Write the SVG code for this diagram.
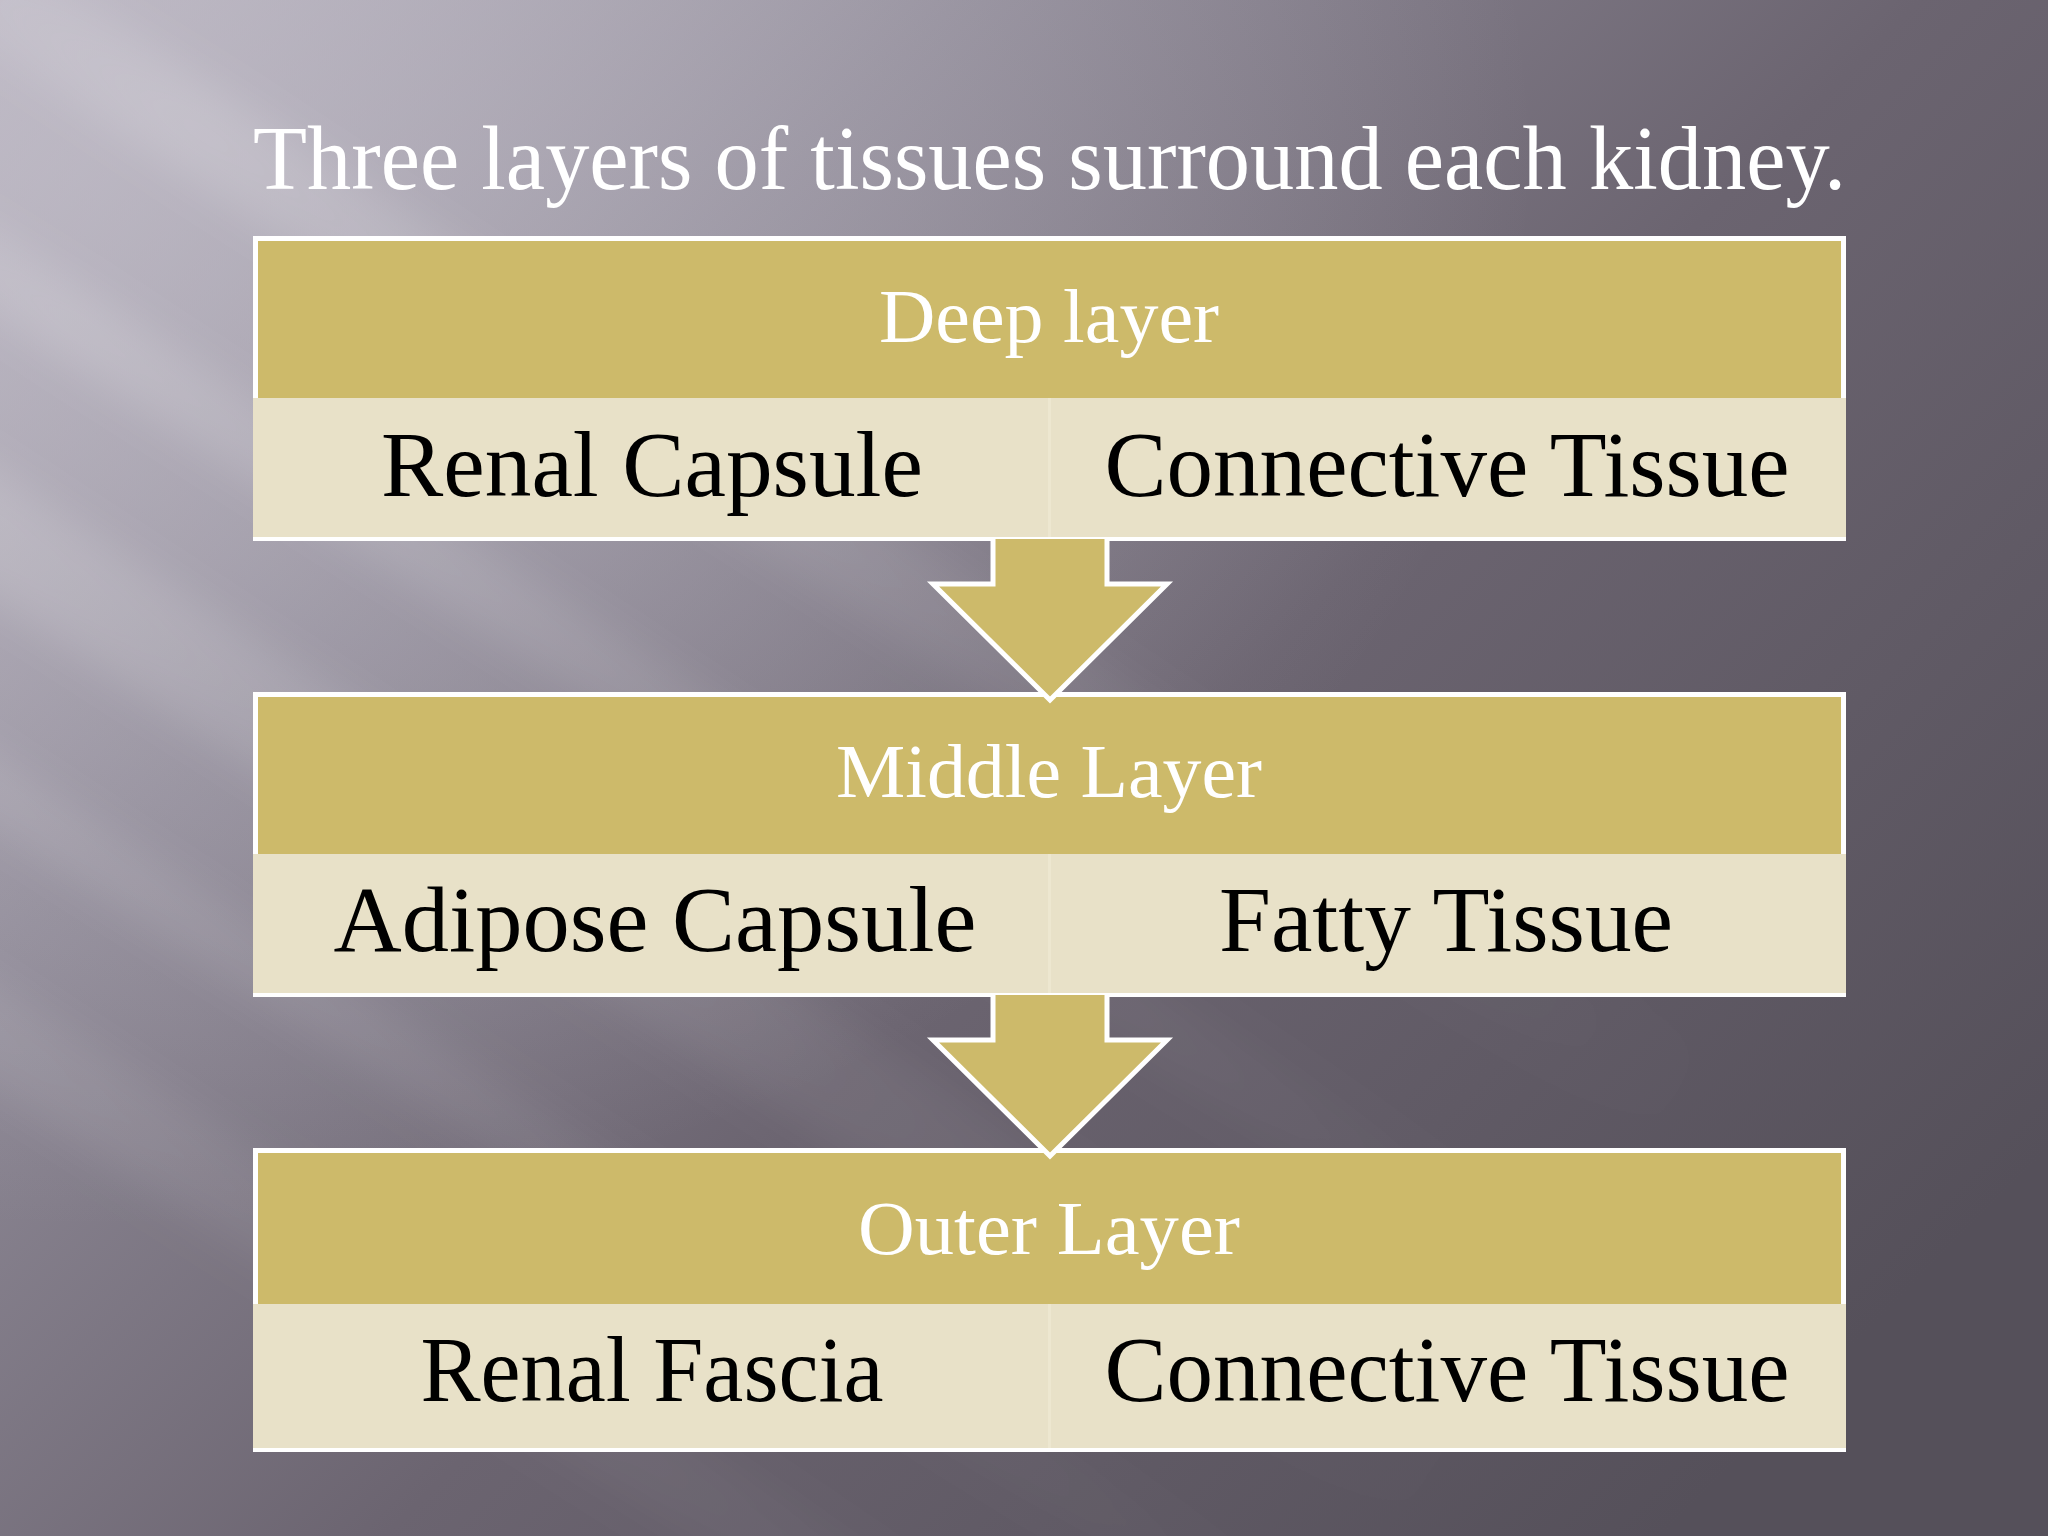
<svg xmlns="http://www.w3.org/2000/svg" width="2048" height="1536" viewBox="0 0 2048 1536">
<defs>
<linearGradient id="bg" x1="0" y1="0" x2="1" y2="0.75">
<stop offset="0" stop-color="#b9b4c0"/>
<stop offset="0.3" stop-color="#8e8996"/>
<stop offset="0.6" stop-color="#6b6470"/>
<stop offset="1" stop-color="#55505a"/>
</linearGradient>
<radialGradient id="glow" cx="0.05" cy="0.1" r="0.7">
<stop offset="0" stop-color="#c4c0cb" stop-opacity="0.6"/>
<stop offset="1" stop-color="#c4c0cb" stop-opacity="0"/>
</radialGradient>
<linearGradient id="streak" x1="0" y1="0" x2="1" y2="0">
<stop offset="0" stop-color="#ffffff" stop-opacity="0"/>
<stop offset="0.25" stop-color="#ffffff" stop-opacity="0.16"/>
<stop offset="0.6" stop-color="#ffffff" stop-opacity="0.08"/>
<stop offset="1" stop-color="#ffffff" stop-opacity="0"/>
</linearGradient>
<filter id="blur" x="-20%" y="-20%" width="140%" height="140%">
<feGaussianBlur stdDeviation="22"/>
</filter>
</defs>
<style>
.gold{fill:#cdba6a}
.light{fill:#e8e1c8}
.div{fill:#ede7d0}
.frame{fill:#ffffff}
.hd{font-family:"Liberation Serif","DejaVu Serif",serif;font-size:76px;fill:#ffffff;text-anchor:middle}
.cell{font-family:"Liberation Serif","DejaVu Serif",serif;font-size:94px;fill:#000000;text-anchor:middle}
.title{font-family:"Liberation Serif","DejaVu Serif",serif;font-size:90px;fill:#ffffff}
.arrow{fill:#cdba6a;stroke:#ffffff;stroke-width:5;stroke-linejoin:miter}
</style>
<rect width="2048" height="1536" fill="url(#bg)"/>
<rect width="2048" height="1536" fill="url(#glow)"/>
<g filter="url(#blur)">
<g transform="rotate(33 600 600)">
<rect x="-600" y="380" width="2400" height="90" fill="url(#streak)"/>
<rect x="-600" y="620" width="2400" height="70" fill="url(#streak)"/>
<rect x="-600" y="820" width="2400" height="110" fill="url(#streak)"/>
<rect x="-600" y="1060" width="2400" height="60" fill="url(#streak)" opacity="0.8"/>
<rect x="-600" y="1250" width="2400" height="90" fill="url(#streak)" opacity="0.7"/>
</g>
</g>
<text class="title" x="253" y="189" textLength="1593" lengthAdjust="spacingAndGlyphs">Three layers of tissues surround each kidney.</text>

<g id="deep-layer">
<rect class="frame" x="253" y="236" width="1593" height="305"/>
<rect class="gold" x="258" y="241" width="1583" height="157"/>
<rect class="light" x="253" y="398" width="1593" height="139"/>
<rect class="div" x="1048" y="398" width="3" height="139"/>
<text class="hd" x="1049" y="342" textLength="340" lengthAdjust="spacingAndGlyphs">Deep layer</text>
<text class="cell" x="652" y="496" textLength="542" lengthAdjust="spacingAndGlyphs">Renal Capsule</text>
<text class="cell" x="1447" y="496" textLength="685" lengthAdjust="spacingAndGlyphs">Connective Tissue</text>
</g>

<g id="middle-layer">
<rect class="frame" x="253" y="692" width="1593" height="305"/>
<rect class="gold" x="258" y="697" width="1583" height="157"/>
<rect class="light" x="253" y="854" width="1593" height="139"/>
<rect class="div" x="1048" y="854" width="3" height="139"/>
<text class="hd" x="1049" y="797" textLength="426" lengthAdjust="spacingAndGlyphs">Middle Layer</text>
<text class="cell" x="655" y="951" textLength="643" lengthAdjust="spacingAndGlyphs">Adipose Capsule</text>
<text class="cell" x="1446" y="951" textLength="454" lengthAdjust="spacingAndGlyphs">Fatty Tissue</text>
</g>

<g id="outer-layer">
<rect class="frame" x="253" y="1148" width="1593" height="304"/>
<rect class="gold" x="258" y="1153" width="1583" height="151"/>
<rect class="light" x="253" y="1304" width="1593" height="144"/>
<rect class="div" x="1048" y="1304" width="3" height="144"/>
<text class="hd" x="1049" y="1254" textLength="382" lengthAdjust="spacingAndGlyphs">Outer Layer</text>
<text class="cell" x="652" y="1401" textLength="463" lengthAdjust="spacingAndGlyphs">Renal Fascia</text>
<text class="cell" x="1447" y="1401" textLength="685" lengthAdjust="spacingAndGlyphs">Connective Tissue</text>
</g>

<g id="connectors">
<path class="arrow" d="M993,539 V584 H933 L1050,700 L1167,584 H1107 V539"/>
<path class="arrow" d="M993,995 V1040 H933 L1050,1156 L1167,1040 H1107 V995"/>
</g>
</svg>
